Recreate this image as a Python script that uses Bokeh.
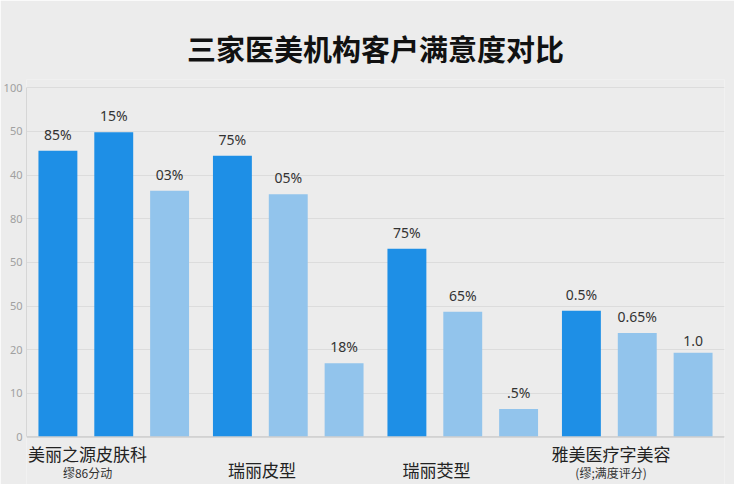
from bokeh.plotting import figure
from bokeh.models import ColumnDataSource, FixedTicker, Span, Range1d, FactorRange
from bokeh.transform import dodge
from bokeh.core.properties import value
from bokeh.embed import file_html
from bokeh.resources import INLINE

# ---- data ----
groups = ["美丽之源皮肤科", "瑞丽皮型", "瑞丽茭型", "雅美医疗字美容"]
sub_labels = ["缪86分动", "", "", "(缪;满度评分)"]
series_a = [65.6, 64.4, 43.1, 28.9]
series_b = [69.8, 55.6, 28.7, 23.8]
series_c = [56.4, 16.9, 6.4, 19.3]
labels_a = ["85%", "75%", "75%", "0.5%"]
labels_b = ["15%", "05%", "65%", "0.65%"]
labels_c = ["03%", "18%", ".5%", "1.0"]
b_is_dark = [True, False, False, False]
y_ticks = [0, 10, 20, 30, 40, 50, 60, 70, 80]
y_tick_labels = ["0", "10", "20", "50", "50", "80", "40", "50", "100"]
title = "三家医美机构客户满意度对比"

DARK = "#1e8fe6"
LIGHT = "#92c4ec"
BG = "#ececec"

src = ColumnDataSource(dict(
    group=groups,
    a=series_a, b=series_b, c=series_c,
    la=labels_a, lb=labels_b, lc=labels_c,
    ca=[DARK] * len(groups),
    cb=[DARK if d else LIGHT for d in b_is_dark],
    cc=[LIGHT] * len(groups),
    sub=sub_labels,
    main_y=[-3.8 if s else -7.5 for s in sub_labels],
    sub_y=[-8.1] * len(groups),
))

p = figure(x_range=FactorRange(*groups), y_range=Range1d(-10.9, 81.9),
           width=734, height=484, output_backend="svg", toolbar_location=None,
           min_border_left=0, min_border_right=10, min_border_bottom=0, min_border_top=79)

p.background_fill_color = BG
p.border_fill_color = BG
p.outline_line_color = None

p.title.text = title
p.title.text_font = "Noto Sans CJK SC"
p.title.text_font_size = "29px"
p.title.text_font_style = "bold"
p.title.text_color = "#111111"
p.title.align = "center"
p.title.standoff = 21

p.xaxis.visible = False
p.xgrid.visible = False

ticker = FixedTicker(ticks=y_ticks)
p.yaxis.ticker = ticker
p.yaxis.bounds = (0, 80)
p.yaxis.major_label_overrides = {t: l for t, l in zip(y_ticks, y_tick_labels)}
p.yaxis.major_tick_line_color = None
p.yaxis.major_tick_out = 0
p.yaxis.major_tick_in = 0
p.yaxis.minor_tick_line_color = None
p.yaxis.axis_line_color = "#d6d6d6"
p.yaxis.major_label_text_color = "#a0a0a0"
p.yaxis.major_label_text_font_size = "11px"
p.yaxis.major_label_text_font = "Noto Sans"
p.yaxis.major_label_standoff = 4
p.ygrid.ticker = ticker
p.ygrid.grid_line_color = "#dcdcdc"

p.add_layout(Span(location=0, dimension="width", line_color="#cfcfcf", line_width=1.5))

offsets = [-0.32, 0.0, 0.32]
for off, col, colc, lab in zip(offsets, ["a", "b", "c"], ["ca", "cb", "cc"], ["la", "lb", "lc"]):
    xx = dodge("group", off, range=p.x_range)
    p.vbar(x=xx, top=col, width=0.223, source=src, fill_color=colc, line_color=None)
    p.text(x=xx, y=col, text=lab, source=src, text_align="center", text_baseline="bottom",
           y_offset=-7, text_font_size="14px", text_color="#333333",
           text_font=value("Noto Sans"))

lx = dodge("group", -0.15, range=p.x_range)
p.text(x=lx, y="main_y", text="group", source=src, text_align="center", text_baseline="middle",
       text_font_size="17px", text_color="#222222", text_font=value("Noto Sans CJK SC"))
p.text(x=lx, y="sub_y", text="sub", source=src, text_align="center", text_baseline="middle",
       text_font_size="12px", text_color="#333333", text_font=value("Noto Sans CJK SC"))

open("out.html", "w").write(file_html(p, INLINE))
